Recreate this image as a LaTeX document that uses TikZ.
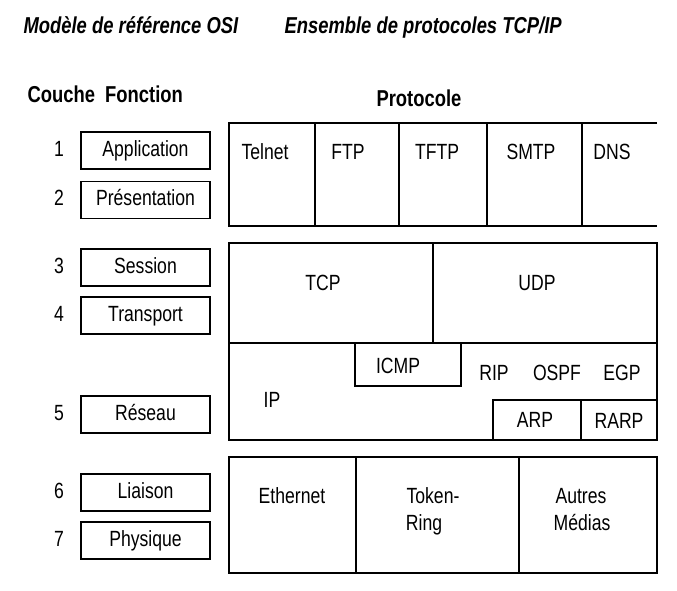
\documentclass[tikz,border=0pt]{standalone}
\usepackage{fontspec}
\setmainfont{Liberation Sans}[FakeStretch=0.8]
\tikzset{
  fct/.style={draw, minimum width=129pt, minimum height=37pt, inner sep=0pt, text height=17pt, text depth=6pt},
  lbl/.style={anchor=base, inner sep=0pt},
  titre/.style={lbl, anchor=base west, font=\fontsize{23}{27}\selectfont\bfseries\itshape},
  entete/.style={lbl, anchor=base west, font=\fontsize{23}{27}\selectfont\bfseries}
}
\begin{document}
\begin{tikzpicture}[x=1pt, y=-1pt, line width=1.1pt, font=\fontsize{22}{26}\selectfont]
    \useasboundingbox (0,0) rectangle (677,590);

    \node[titre] (osi) at (23,33) {Modèle de référence OSI};
    \node[titre] (tcpip) at (284,33) {Ensemble de protocoles TCP/IP};
    \node[entete] (couche) at (27,102) {Couche\ \ Fonction};
    \node[entete] (proto) at (376,106) {Protocole};

    % couches OSI
    \foreach \n/\y/\t in {1/150.5/Application, 2/200/Présentation, 3/267.5/Session,
        4/315.5/Transport, 5/414.5/Réseau, 6/492.5/Liaison, 7/540.5/Physique}{
    \node[fct] (f\n) at (145.5,\y) {\t};
    \node[lbl] (n\n) at ([xshift=-86.5pt]f\n.base) {\n};
    }

    % applications
    \draw (657,123) -- (229,123) -- (229,226) -- (657,226);
    \foreach \x in {315,399,487,582}
    \draw (\x,123) -- (\x,226);
    \foreach \x/\t in {265/Telnet, 348/FTP, 437/TFTP, 531/SMTP, 612/DNS}
    \node[lbl] (\t) at (\x,159) {\t};

    % transport et reseau
    \draw (229,243) rectangle (657,440);
    \draw (229,343) -- (657,343);
    \draw (433,243) -- (433,343);
    \draw (355,343) rectangle (461,386);
    \draw (493,440) -- (493,400) -- (657,400);
    \draw (581,400) -- (581,440);
    \node[lbl] (tcp) at (323,290) {TCP};
    \node[lbl] (udp) at (537,290) {UDP};
    \node[lbl] (icmp) at (398,373) {ICMP};
    \foreach \x/\t in {494/RIP, 557/OSPF, 622/EGP}
    \node[lbl] (\t) at (\x,380) {\t};
    \node[lbl] (ip) at (272,407) {IP};
    \node[lbl] (arp) at (535,427) {ARP};
    \node[lbl] (rarp) at (619,428) {RARP};

    % liaison
    \draw (229,457) rectangle (657,573);
    \foreach \x in {356,519}
    \draw (\x,457) -- (\x,573);
    \node[lbl] (eth) at (292,503) {Ethernet};
    \node[lbl] (tok) at (433,503) {Token-};
    \node[lbl] (ring) at (424,530) {Ring};
    \node[lbl] (autres) at (581,503) {Autres};
    \node[lbl] (medias) at (582,530) {Médias};

\end{tikzpicture}
\end{document}
